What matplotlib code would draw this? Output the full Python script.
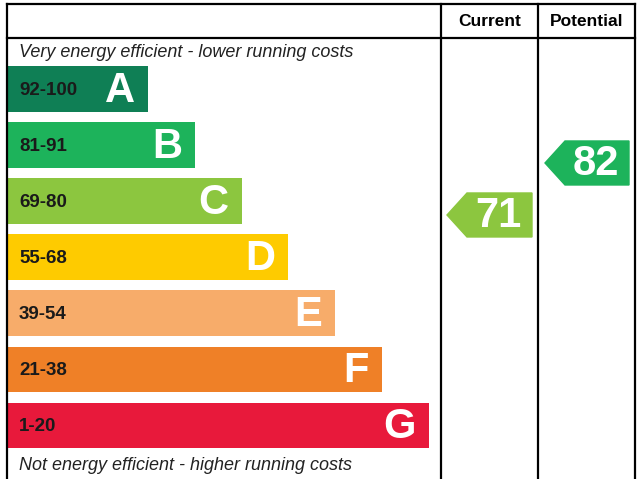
import matplotlib.pyplot as plt
from matplotlib.patches import Polygon

# energy bands
bands = ['A', 'B', 'C', 'D', 'E', 'F', 'G']
ranges = ['92-100', '81-91', '69-80', '55-68', '39-54', '21-38', '1-20']
lows = [92, 81, 69, 55, 39, 21, 1]
colors = ['#0f7f55', '#1db35b', '#8cc63f', '#fecb00', '#f7ac6a', '#ef8027', '#e8193b']

current = 71
potential = 82

plt.rcParams['font.family'] = ['Liberation Sans', 'DejaVu Sans']

fig = plt.figure(figsize=(6.4, 4.79), dpi=100)
ax = fig.add_axes([0, 0, 1, 1])
ax.set_xlim(0, 640)
ax.set_ylim(479, 0)
ax.axis('off')

# bars
bar_left = 8
tops = [66 + 56.1 * i for i in range(len(bands))]
widths = [140 + 46.8 * i for i in range(len(bands))]
ax.barh(tops, widths, height=45.5, left=bar_left, align='edge', color=colors)
for i in range(len(bands)):
    yc = tops[i] + 23
    ax.text(19, yc + 1, ranges[i], fontsize=13.5, fontweight='bold',
            color='#1a1a1a', va='center', ha='left')
    ax.text(bar_left + widths[i] - 13, yc + 1.5, bands[i], fontsize=30,
            fontweight='bold', color='white', va='center', ha='right')

ax.text(19, 52, 'Very energy efficient - lower running costs', fontsize=13,
        style='italic', color='#222222', va='center')
ax.text(19, 465, 'Not energy efficient - higher running costs', fontsize=13,
        style='italic', color='#222222', va='center')

# frame
lw = 1.6
ax.plot([7, 635], [4, 4], color='black', lw=lw)
ax.plot([7, 635], [38, 38], color='black', lw=lw)
for x in [7, 441, 538, 635]:
    ax.plot([x, x], [4, 490], color='black', lw=lw)

ax.text(489.5, 21, 'Current', fontsize=12.5, fontweight='bold', ha='center', va='center')
ax.text(586.5, 21, 'Potential', fontsize=12.5, fontweight='bold', ha='center', va='center')


def band_color(score):
    for lo, c in zip(lows, colors):
        if score >= lo:
            return c
    return colors[-1]


def arrow(x0, x1, score):
    yc = 550.6 - 4.727 * score
    h = 22
    tip = 20
    pts = [(x0, yc), (x0 + tip, yc - h), (x1, yc - h), (x1, yc + h), (x0 + tip, yc + h)]
    ax.add_patch(Polygon(pts, closed=True, color=band_color(score)))
    ax.text((x0 + tip + x1) / 2 - 1, yc + 1.5, str(score), fontsize=30, fontweight='bold',
            color='white', ha='center', va='center')


arrow(447, 532, current)
arrow(545, 629, potential)

fig.savefig('out.png', dpi=100)
